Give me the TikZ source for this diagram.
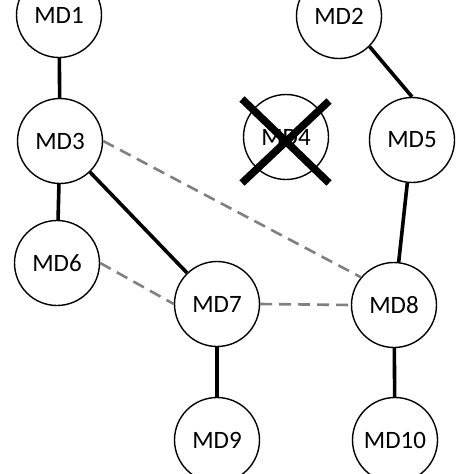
\documentclass[tikz,border=0pt]{standalone}
\usepackage{fontspec}
\setmainfont{Carlito}
\usepackage{tikz}
\tikzstyle{md}=[circle, draw, line width=1.4pt, minimum size=85pt, inner sep=0pt, fill=white, font=\fontsize{25}{28}\selectfont]
\tikzstyle{link}=[line width=3.6pt, color=black]
\tikzstyle{weak}=[line width=2.6pt, color=gray, dash pattern=on 12pt off 7pt]
\tikzstyle{cross}=[line width=7.5pt, color=black]

\begin{document}
\begin{tikzpicture}[x=1pt, y=-1pt]

    \useasboundingbox (0,0) rectangle (474,474);

    % the devices, using a loop
    \foreach \n/\x/\y in {MD1/59/15, MD2/339/16, MD3/60/141, MD4/286/137, MD5/412/140,
                          MD6/57/263, MD7/217/304, MD8/394/305, MD9/217/440, MD10/395/440}
    \node[md] (\n) at (\x, \y) {\n};

    % solid links
    \draw[link] (MD1) -- (MD3);
    \draw[link] (MD3) -- (MD6);
    \draw[link] (MD3) -- (MD7);
    \draw[link] (MD2.-45) -- (MD5.north);
    \draw[link] (MD5) -- (MD8);
    \draw[link] (MD7) -- (MD9);
    \draw[link] (MD8) -- (MD10);

    % dashed links
    \draw[weak] (MD3.east) -- (MD8.140);
    \draw[weak] (MD6.east) -- (MD7.west);
    \draw[weak] (MD7.east) -- (MD8.west);

    % cross over MD4
    \draw[cross] (242,99) -- (329,183);
    \draw[cross] (242,183) -- (329,101);
  \end{tikzpicture}
\end{document}
